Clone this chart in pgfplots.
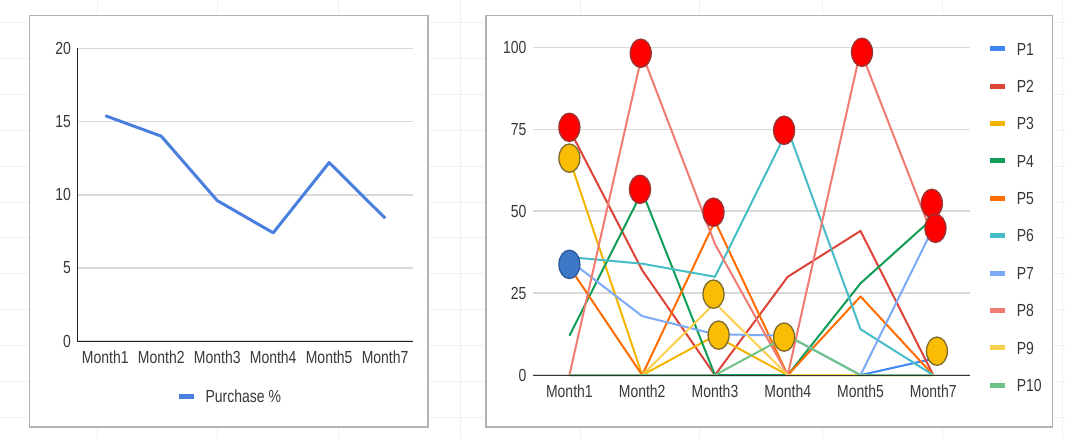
\documentclass[border=0pt]{standalone}
\usepackage{fontspec}
\setmainfont{Liberation Sans}[FakeStretch=0.8]
\usepackage{pgfplots}
\pgfplotsset{compat=1.18}
\definecolor{labelgray}{HTML}{383838}
\definecolor{leftblue}{HTML}{4A7FE0}
\definecolor{cA}{HTML}{4285F4}
\definecolor{cB}{HTML}{DB4437}
\definecolor{cC}{HTML}{F4B400}
\definecolor{cD}{HTML}{0F9D58}
\definecolor{cE}{HTML}{FF6D01}
\definecolor{cF}{HTML}{46BDC6}
\definecolor{cG}{HTML}{7BAAF7}
\definecolor{cH}{HTML}{F07B72}
\definecolor{cI}{HTML}{FCD04F}
\definecolor{cJ}{HTML}{71C287}
\definecolor{redfill}{HTML}{FF0000}
\definecolor{rededge}{HTML}{9A3434}
\definecolor{yelfill}{HTML}{FBBC04}
\definecolor{yeledge}{HTML}{7D6A2C}
\definecolor{bluefill}{HTML}{3D78C6}
\definecolor{blueedge}{HTML}{2C5A9A}
\newcommand{\chartfont}{\fontsize{17.5}{20}\selectfont}
\begin{document}
\begin{tikzpicture}[font=\chartfont]
\fill[white] (0pt,0pt) rectangle (1066pt,439pt);
\foreach \x in {97,217,338,460,580,700,823,943,1063}
  \draw[gray!12, line width=0.8pt] (\x pt,0pt) -- (\x pt,439pt);
\foreach \y in {417,381,345,309,273,237,202,166,130,94,58,22}
  \draw[gray!12, line width=0.8pt] (0pt,\y pt) -- (1066pt,\y pt);
\draw[draw=gray!60, line width=1.2pt, fill=white] (29pt,12pt) rectangle (428pt,424pt);
\draw[draw=gray!60, line width=1.2pt, fill=white] (486pt,12pt) rectangle (1053pt,424pt);

\begin{axis}[
  at={(77pt,98pt)}, anchor=south west, scale only axis,
  width=336pt, height=293pt,
  xmin=-0.5, xmax=5.5, ymin=0, ymax=20,
  xtick={0,...,5}, xticklabels={Month1,Month2,Month3,Month4,Month5,Month7},
  ytick={0,5,10,15,20},
  axis lines*=left,
  axis line style={draw=black!85, line width=1.2pt},
  major tick length=0pt,
  ymajorgrids, grid style={draw=gray!30, line width=1.5pt},
  tick label style={text=labelgray, font=\chartfont},
  /pgf/number format/assume math mode=true,
  xticklabel style={yshift=-6pt},
  yticklabel style={xshift=-3pt},
  legend cell align=left,
  legend style={at={(0.451,-0.188)}, anchor=center, draw=none, fill=none,
    inner sep=0pt, column sep=9pt, font=\chartfont,
    nodes={inner sep=0pt, text=labelgray, text height=12.5pt, text depth=0pt}},
  legend image code/.code={\draw[line width=5pt] (0pt,0pt) -- (15pt,0pt);},
]
\addplot[color=leftblue, line width=3pt, line join=round] coordinates {(0,15.4)(1,14.0)(2,9.6)(3,7.4)(4,12.2)(5,8.4)};
\addlegendentry{Purchase \%}
\end{axis}

\begin{axis}[
  at={(533pt,64pt)}, anchor=south west, scale only axis,
  width=437pt, height=328pt,
  xmin=-0.5, xmax=5.5, ymin=0, ymax=100,
  xtick={0,...,5}, xticklabels={Month1,Month2,Month3,Month4,Month5,Month7},
  ytick={0,25,50,75,100},
  axis lines*=left,
  axis line style={draw=black!80, line width=1.2pt},
  y axis line style={draw=none},
  major tick length=0pt,
  ymajorgrids, grid style={draw=gray!30, line width=1.5pt},
  tick label style={text=labelgray, font=\chartfont},
  /pgf/number format/assume math mode=true,
  xticklabel style={yshift=-6pt},
  yticklabel style={xshift=-3pt},
  clip=false,
  legend cell align=left,
  legend style={at={(1.0412,1.0152)}, anchor=north west, draw=none, fill=none,
    inner sep=0pt, column sep=9pt, row sep=24.9pt, font=\chartfont,
    nodes={inner sep=0pt, text=labelgray, text height=12.5pt, text depth=0pt}},
  legend image code/.code={\draw[line width=5pt] (0pt,0pt) -- (15pt,0pt);},
  every axis plot/.append style={line width=2pt, line join=round},
]
\addplot[color=cA] coordinates {(0,0)(1,0)(2,0)(3,0)(4,0)(5,5)};
\addplot[color=cB] coordinates {(0,75)(1,32)(2,0)(3,30)(4,44)(5,0)};
\addplot[color=cC] coordinates {(0,66)(1,0)(2,12)(3,0)(4,0)(5,0)};
\addplot[color=cD] coordinates {(0,12)(1,56)(2,0)(3,0)(4,28)(5,48)};
\addplot[color=cE] coordinates {(0,33)(1,0)(2,47)(3,0)(4,24)(5,0)};
\addplot[color=cF] coordinates {(0,36)(1,34)(2,30)(3,75)(4,14)(5,0)};
\addplot[color=cG] coordinates {(0,35)(1,18)(2,12.5)(3,12)(4,0)(5,45)};
\addplot[color=cH] coordinates {(0,0)(1,98)(2,40)(3,0)(4,99)(5,42)};
\addplot[color=cI] coordinates {(0,0)(1,0)(2,22)(3,0)(4,0)(5,0)};
\addplot[color=cJ] coordinates {(0,0)(1,0)(2,0)(3,12)(4,0)(5,0)};
\legend{P1,P2,P3,P4,P5,P6,P7,P8,P9,P10}
% baseline redrawn over the series
\addplot[forget plot, draw=black!80, line width=1.2pt] coordinates {(-0.5,0)(5.5,0)};
\addplot[forget plot, only marks, mark=*, mark size=10.5pt,
  mark options={fill=redfill, draw=rededge, line width=1.3pt, yscale=1.35}]
  coordinates {(0,75.6)(0.98,98.2)(0.97,56.7)(1.98,49.7)(2.95,74.7)(4.02,98.5)(4.98,52.4)(5.03,44.8)};
\addplot[forget plot, only marks, mark=*, mark size=10.5pt,
  mark options={fill=yelfill, draw=yeledge, line width=1.3pt, yscale=1.35}]
  coordinates {(0,66.2)(1.98,24.7)(2.05,12.2)(2.95,11.6)(5.05,7.3)};
\addplot[forget plot, only marks, mark=*, mark size=10.5pt,
  mark options={fill=bluefill, draw=blueedge, line width=1.3pt, yscale=1.35}]
  coordinates {(0,33.8)};
\end{axis}
\end{tikzpicture}
\end{document}
